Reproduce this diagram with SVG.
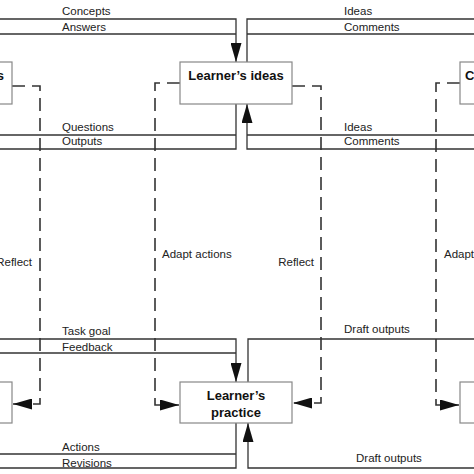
<svg xmlns="http://www.w3.org/2000/svg" width="474" height="474" viewBox="0 0 474 474">
<defs>
<style>
.box{fill:#fff;stroke:#888;stroke-width:1.2}
.bt{font-family:"Liberation Sans",Arial,sans-serif;font-weight:bold;font-size:13px;fill:#111;text-anchor:middle}
.lb{font-family:"Liberation Sans",Arial,sans-serif;font-size:11.5px;fill:#222}
.ln{fill:none;stroke:#333;stroke-width:1.3}
.ds{fill:none;stroke:#333;stroke-width:1.6;stroke-dasharray:13 7}
</style>
<marker id="ah" viewBox="0 0 19 11" markerWidth="19" markerHeight="11" refX="19" refY="5.5" orient="auto" markerUnits="userSpaceOnUse">
<path d="M0,0 L19,5.5 L0,11 z" fill="#111"/>
</marker>
</defs>
<rect width="474" height="474" fill="#fff"/>
<g id="connectors">
<path class="ln" d="M0,19 H236 V62" marker-end="url(#ah)"/>
<path class="ln" d="M0,34 H236"/>
<path class="ln" d="M247,62 V19 H474"/>
<path class="ln" d="M247,34 H474"/>
<path class="ln" d="M236,104 V149 H0"/>
<path class="ln" d="M236,135 H0"/>
<path class="ln" d="M474,149 H247 V104" marker-end="url(#ah)"/>
<path class="ln" d="M474,135 H247"/>
<path class="ln" d="M0,339 H236 V382" marker-end="url(#ah)"/>
<path class="ln" d="M0,353 H236"/>
<path class="ln" d="M248,382 V339 H474"/>
<path class="ln" d="M236,423 V468 H0"/>
<path class="ln" d="M236,454 H0"/>
<path class="ln" d="M474,468 H248 V423" marker-end="url(#ah)"/>
<path class="ds" d="M12,86 H40 V404 H13" marker-end="url(#ah)"/>
<path class="ds" d="M180,83 H155 V405 H179" marker-end="url(#ah)"/>
<path class="ds" d="M292,86 H321 V403 H293" marker-end="url(#ah)"/>
<path class="ds" d="M460,83 H436 V405 H459" marker-end="url(#ah)"/>
<text class="lb" x="62" y="15">Concepts</text>
<text class="lb" x="62" y="30.5">Answers</text>
<text class="lb" x="344" y="15">Ideas</text>
<text class="lb" x="344" y="30.5">Comments</text>
<text class="lb" x="62" y="131">Questions</text>
<text class="lb" x="62" y="145">Outputs</text>
<text class="lb" x="344" y="131">Ideas</text>
<text class="lb" x="344" y="145">Comments</text>
<text class="lb" x="32" y="266" text-anchor="end">Reflect</text>
<text class="lb" x="162" y="258">Adapt actions</text>
<text class="lb" x="314" y="266" text-anchor="end">Reflect</text>
<text class="lb" x="444" y="258">Adapt actions</text>
<text class="lb" x="62" y="334.5">Task goal</text>
<text class="lb" x="62" y="350.5">Feedback</text>
<text class="lb" x="344" y="333">Draft outputs</text>
<text class="lb" x="62" y="451">Actions</text>
<text class="lb" x="62" y="466.5">Revisions</text>
<text class="lb" x="356" y="461.5">Draft outputs</text>
</g>
<g id="node-left-top">
<rect class="box" x="-100" y="62" width="112" height="42"/>
<text class="bt" x="4" y="80" style="text-anchor:end">s</text>
</g>
<g id="node-learners-ideas">
<rect class="box" x="180" y="62" width="112" height="42"/>
<text class="bt" x="236" y="80">Learner’s ideas</text>
</g>
<g id="node-right-top">
<rect class="box" x="460" y="62" width="112" height="42"/>
<text class="bt" x="465" y="80" style="text-anchor:start">C</text>
</g>
<g id="node-left-bottom">
<rect class="box" x="-100" y="382" width="112" height="41"/>
</g>
<g id="node-learners-practice">
<rect class="box" x="180" y="382" width="112" height="41"/>
<text class="bt" x="236" y="400">Learner’s</text>
<text class="bt" x="236" y="417">practice</text>
</g>
<g id="node-right-bottom">
<rect class="box" x="460" y="382" width="112" height="41"/>
</g>
</svg>
